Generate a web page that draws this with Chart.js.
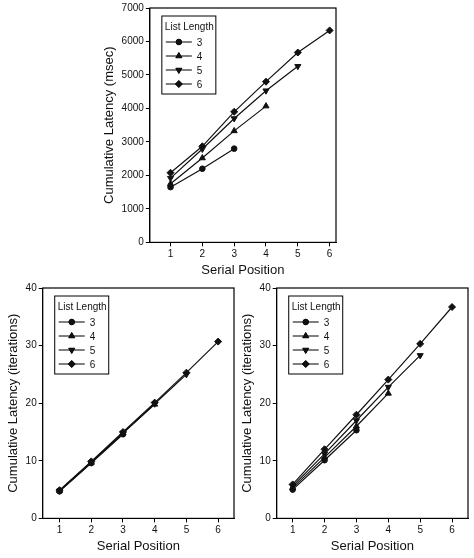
<!DOCTYPE html>
<html>
<head>
<meta charset="utf-8">
<script src="https://cdn.jsdelivr.net/npm/chart.js@4"></script>
<style>
  body { margin: 0; background: #fff; }
  .box { position: absolute; }
</style>
</head>
<body>
<div class="box" style="left:98px;top:0;width:250px;height:282px"><canvas id="top"></canvas></div>
<div class="box" style="left:0;top:280px;width:240px;height:278px"><canvas id="left"></canvas></div>
<div class="box" style="left:234px;top:280px;width:240px;height:278px"><canvas id="right"></canvas></div>
<script>
const positions = [1, 2, 3, 4, 5, 6];
const listLengths = ['3', '4', '5', '6'];
const pointStyles = ['circle', 'triangle', 'triangle', 'rectRot'];
const pointRotations = [0, 0, 180, 0];
const pointRadii = [2.8, 3.5, 3.5, 3.5];

// Top: cumulative latency in msec
const msec3 = [1650, 2200, 2800];
const msec4 = [1750, 2520, 3330, 4070];
const msec5 = [1920, 2790, 3700, 4530, 5260];
const msec6 = [2080, 2870, 3900, 4800, 5670, 6330];

// Bottom left: iterations
const iterA3 = [4.7, 9.6, 14.6];
const iterA4 = [4.8, 9.7, 14.8, 19.8];
const iterA5 = [4.8, 9.7, 14.8, 19.9, 25.0];
const iterA6 = [4.9, 9.9, 15.0, 20.1, 25.3, 30.7];

// Bottom right: iterations
const iterB3 = [5.0, 10.1, 15.3];
const iterB4 = [5.3, 10.6, 16.0, 21.7];
const iterB5 = [5.6, 11.2, 17.0, 22.8, 28.3];
const iterB6 = [5.9, 12.0, 18.0, 24.1, 30.3, 36.7];

const FONT = 'Liberation Sans, Arial, sans-serif';

// --- frame around plot + legend box inside ---
const framePlugin = {
  id: 'frame',
  afterDraw(chart) {
    const ctx = chart.ctx, a = chart.chartArea;
    ctx.save();
    ctx.strokeStyle = '#000';
    ctx.lineWidth = 1.2;
    ctx.strokeRect(a.left, a.top, a.right - a.left, a.bottom - a.top);
    // legend
    const lx = a.left + 12, ly = a.top + 8, w = 54, h = 78;
    ctx.fillStyle = '#fff';
    ctx.fillRect(lx, ly, w, h);
    ctx.lineWidth = 1;
    ctx.strokeRect(lx, ly, w, h);
    ctx.fillStyle = '#111';
    ctx.font = '10px ' + FONT;
    ctx.textBaseline = 'middle';
    ctx.fillText('List Length', lx + 3, ly + 11);
    listLengths.forEach((lab, i) => {
      const y = ly + 26 + i * 14;
      ctx.beginPath();
      ctx.moveTo(lx + 4, y);
      ctx.lineTo(lx + 30, y);
      ctx.stroke();
      Chart.helpers.drawPoint(ctx, {pointStyle: pointStyles[i], rotation: pointRotations[i], radius: pointRadii[i], borderWidth: 1}, lx + 17, y);
      ctx.fill();
      ctx.fillText(lab, lx + 35, y + 1);
    });
    ctx.restore();
  }
};

function makeChart(id, series, xMin, xMax, yMax, yStep, pad) {
  new Chart(document.getElementById(id), {
    type: 'line',
    data: {
      datasets: series.map((vals, i) => ({
        label: listLengths[i],
        data: vals.map((v, j) => ({x: positions[j], y: v})),
        borderColor: '#111',
        backgroundColor: '#111',
        borderWidth: 1.2,
        pointStyle: pointStyles[i],
        rotation: pointRotations[i],
        pointRadius: pointRadii[i],
        pointBorderWidth: 1,
        tension: 0
      }))
    },
    options: {
      responsive: true,
      maintainAspectRatio: false,
      animation: false,
      layout: {padding: pad},
      plugins: {legend: {display: false}, tooltip: {enabled: false}},
      scales: {
        x: {
          type: 'linear', min: xMin, max: xMax,
          afterBuildTicks: s => { s.ticks = positions.map(v => ({value: v})); },
          grid: {drawOnChartArea: false, tickLength: 4, color: '#000'},
          border: {color: '#000'},
          ticks: {color: '#111', font: {size: 10, family: FONT}, padding: 2},
          title: {display: true, text: 'Serial Position', color: '#111', font: {size: 13, family: FONT}, padding: {top: 0}}
        },
        y: {
          min: 0, max: yMax,
          ticks: {stepSize: yStep, color: '#111', font: {size: 10, family: FONT}, padding: 2, callback: v => String(v)},
          grid: {drawOnChartArea: false, tickLength: 4, color: '#000'},
          border: {color: '#000'},
          title: {display: true, text: id === 'top' ? 'Cumulative Latency (msec)' : 'Cumulative Latency (iterations)', color: '#111', font: {size: 13, family: FONT}, padding: {bottom: 2}}
        }
      }
    },
    plugins: [framePlugin]
  });
}

makeChart('top', [msec3, msec4, msec5, msec6], 0.35, 6.2, 7000, 1000, {top: 6, right: 12, bottom: 0, left: 0});
makeChart('left', [iterA3, iterA4, iterA5, iterA6], 0.47, 6.5, 40, 10, {top: 8, right: 6, bottom: 0, left: 2});
makeChart('right', [iterB3, iterB4, iterB5, iterB6], 0.5, 6.5, 40, 10, {top: 8, right: 6, bottom: 0, left: 2});
</script>
</body>
</html>
